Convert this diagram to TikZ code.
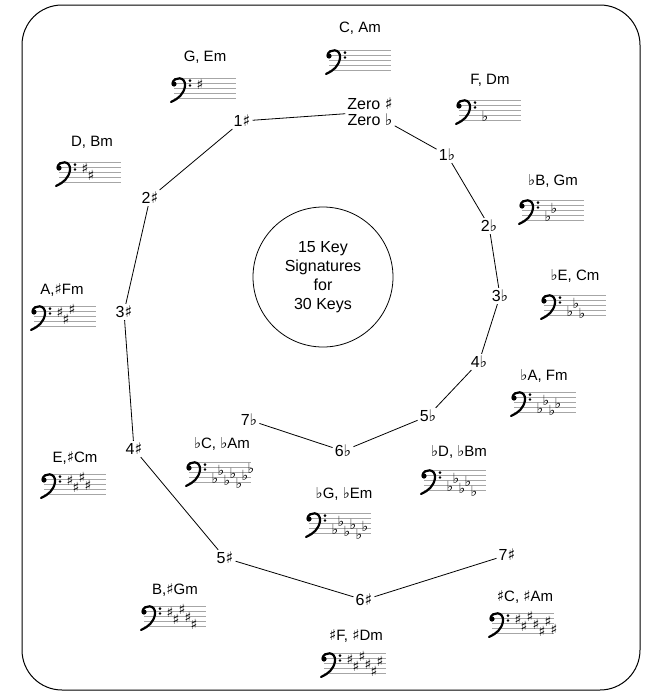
\documentclass[tikz,border=0pt]{standalone}
\usepackage{fontspec}
\setmainfont{Liberation Sans}
\newfontfamily\sym{DejaVu Sans}
\newcommand\fl{{\sym ♭}}
\newcommand\sh{{\sym ♯}}
\begin{document}
\begin{tikzpicture}[x=1pt,y=-1pt,
  lab/.style={font=\fontsize{15}{17}\selectfont,inner sep=1pt},
  num/.style={font=\fontsize{16}{18}\selectfont,inner sep=2pt,fill=white},
  con/.style={line width=0.8pt}]
\useasboundingbox (0,0) rectangle (648,694);
\draw[line width=1pt,rounded corners=40] (22,5) rectangle (640,690);
\newcommand\keystaff[5]{%
  \foreach \k in {0,...,4} \draw[gray!70,line width=0.6pt] (#1+4,#2+5*\k) -- (#1+66,#2+5*\k);
  \fill (#1+4,#2+6) circle (2.6);
  \draw[line width=2.2pt,line cap=round] (#1+2.5,#2+5) .. controls (#1+4,#2-1.5) and (#1+16,#2-2) .. (#1+15,#2+8) .. controls (#1+14,#2+16) and (#1+8,#2+21) .. (#1+1,#2+24);
  \fill (#1+20,#2+2.6) circle (1.4) (#1+20,#2+7.4) circle (1.4);
  \ifnum#4>0
  \foreach \i in {1,...,#4}{%
    \pgfmathsetmacro\p{#3[\i-1]}
    \node[inner sep=0pt,font=\sym\fontsize{14}{14}\selectfont] at (#1+24+6*\i,#2+21-\p*2.5) {#5};}
  \fi}
\def\FL{{2,5,1,4,0,3,6}}
\def\SH{{6,3,7,4,1,5,2}}
% numbered nodes
\node[num,align=center] (z) at (370,112) {Zero \sh\\[-2pt]Zero \fl};
\node[num] (f1) at (447,155) {1\fl};
\node[num] (f2) at (489,226) {2\fl};
\node[num] (f3) at (500,296) {3\fl};
\node[num] (f4) at (479,362) {4\fl};
\node[num] (f5) at (428,416) {5\fl};
\node[num] (f6) at (343,451) {6\fl};
\node[num] (f7) at (249,420) {7\fl};
\node[num] (s1) at (242,121) {1\sh};
\node[num] (s2) at (150,198) {2\sh};
\node[num] (s3) at (124,312) {3\sh};
\node[num] (s4) at (134,449) {4\sh};
\node[num] (s5) at (225,558) {5\sh};
\node[num] (s6) at (364,600) {6\sh};
\node[num] (s7) at (507,555) {7\sh};
\draw[con] (z) -- (f1) -- (f2) -- (f3) -- (f4) -- (f5) -- (f6) -- (f7);
\draw[con] (z) -- (s1) -- (s2) -- (s3) -- (s4) -- (s5) -- (s6) -- (s7);
\node[draw,circle,line width=0.8pt,minimum size=140,align=center,font=\fontsize{16}{19}\selectfont] (c) at (323,277) {15 Key\\Signatures\\for\\30 Keys};
% key labels and staffs
\node[lab] (kC) at (360,28) {C, Am}; \keystaff{325}{50}{\FL}{0}{}
\node[lab] (kG) at (205,57) {G, Em}; \keystaff{170}{78}{\SH}{1}{♯}
\node[lab] (kF) at (490,80) {F, Dm}; \keystaff{455}{100}{\FL}{1}{♭}
\node[lab] (kD) at (92,142) {D, Bm}; \keystaff{55}{162}{\SH}{2}{♯}
\node[lab] (kBb) at (553,181) {\fl B, Gm}; \keystaff{518}{200}{\FL}{2}{♭}
\node[lab] (kEb) at (575,276) {\fl E, Cm}; \keystaff{540}{295}{\FL}{3}{♭}
\node[lab] (kA) at (62,290) {A,\sh Fm}; \keystaff{30}{306}{\SH}{3}{♯}
\node[lab] (kAb) at (544,376) {\fl A, Fm}; \keystaff{510}{392}{\FL}{4}{♭}
\node[lab] (kE) at (75,458) {E,\sh Cm}; \keystaff{40}{474}{\SH}{4}{♯}
\node[lab] (kCb) at (222,444) {\fl C, \fl Am}; \keystaff{185}{462}{\FL}{7}{♭}
\node[lab] (kDb) at (459,452) {\fl D, \fl Bm}; \keystaff{420}{470}{\FL}{5}{♭}
\node[lab] (kGb) at (344,494) {\fl G, \fl Em}; \keystaff{305}{513}{\FL}{6}{♭}
\node[lab] (kB) at (175,590) {B,\sh Gm}; \keystaff{140}{606}{\SH}{5}{♯}
\node[lab] (kCs) at (525,597) {\sh C, \sh Am}; \keystaff{488}{613}{\SH}{7}{♯}
\node[lab] (kFs) at (356,636) {\sh F, \sh Dm}; \keystaff{320}{653}{\SH}{6}{♯}
\end{tikzpicture}
\end{document}
